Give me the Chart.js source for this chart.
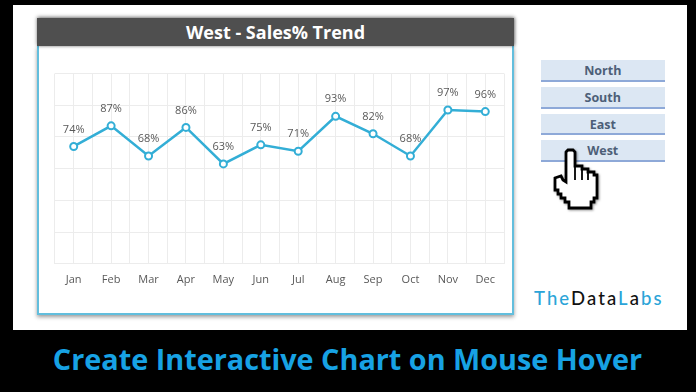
<!DOCTYPE html>
<html>
<head>
<meta charset="utf-8">
<style>
html, body { margin:0; padding:0; width:696px; height:392px; background:#000; overflow:hidden; }
div { position:absolute; box-sizing:border-box; }
#sheet { left:13px; top:4.5px; width:674px; height:325px; background:#fff; }
#card { left:37px; top:46px; width:477px; height:269px; background:#fff; border:2px solid #62bedd; border-top:none; box-shadow:0 2px 4px rgba(0,0,0,.4); }
#head { left:37px; top:18px; width:477px; height:28px; background:#4f4f4f; color:#fff; font:bold 18px "Open Sans"; line-height:28px; text-align:center; box-shadow:0 -1px 4px rgba(0,0,0,.4), 1px 0 3px rgba(0,0,0,.35); }
#wrap { left:37px; top:46px; width:477px; height:269px; }
.btn { left:541px; width:123.5px; height:21.5px; background:#dce7f3; border-bottom:2px solid #8ea9d8; color:#4d5f78; font:bold 12.5px "Open Sans"; line-height:21px; text-align:center; }
#logo { left:534px; top:287px; font:500 18.5px "Lato"; letter-spacing:2.1px; color:#2ba4d8; white-space:nowrap; }
#logo span { color:#111; }
#caption { left:0; top:339px; width:696px; padding-right:1px; text-align:center; color:#17a2e4; font:bold 28.8px "Open Sans"; line-height:40px; white-space:nowrap; }
#hand { left:540px; top:140px; }
</style>
</head>
<body>
<div id="sheet"></div>
<div id="card"></div>
<div id="head">West - Sales% Trend</div>
<div id="wrap"><canvas id="_chart"></canvas></div>
<div class="btn" style="top:60px">North</div>
<div class="btn" style="top:87px">South</div>
<div class="btn" style="top:113.5px">East</div>
<div class="btn" style="top:140px">West</div>
<svg id="hand" style="position:absolute; filter:drop-shadow(1px 1px 1px rgba(0,0,0,.4))" width="70" height="75" viewBox="0 0 70 75">
	<path d="M26 12 L28 10 L33 10 L35 12 L35 26 L42 26 L42 29 L48 29 L48 32 L54 32 L54 35 L57 35 L57 58 L54 58 L54 62 L51 62 L51 68 L29 68 L29 62 L25 62 L25 58 L21 58 L21 54 L18 54 L18 50 L15 50 L15 38 L21 36 L23 40 L26 42 Z" fill="#fff" stroke="#000" stroke-width="2.8" stroke-linejoin="miter"/>
	<path d="M35 26 L35 40 M42 28 L42 40 M48 31 L48 40" fill="none" stroke="#000" stroke-width="1.8"/>
</svg>
<div id="logo">The<span>Data</span>L<span>a</span>bs</div>
<div id="caption">Create Interactive Chart on Mouse Hover</div>

<script src="https://cdn.jsdelivr.net/npm/chart.js"></script>
<script>
var months = ['Jan','Feb','Mar','Apr','May','Jun','Jul','Aug','Sep','Oct','Nov','Dec'];
var sales = [74, 87, 68, 86, 63, 75, 71, 93, 82, 68, 97, 96];

var gridColor = '#ececec';

// percent labels above each point
var pointLabels = {
	id: 'pointLabels',
	afterDatasetsDraw(chart) {
		var ctx = chart.ctx;
		ctx.save();
		ctx.font = '11px "Open Sans"';
		ctx.fillStyle = '#595959';
		ctx.textAlign = 'center';
		ctx.textBaseline = 'middle';
		chart.getDatasetMeta(0).data.forEach((p, i) => {
			ctx.fillText(sales[i] + '%', p.x, p.y - 17);
		});
		ctx.restore();
	}
};

var chart = new Chart(_chart, {
	type: 'line',
	data: {
		labels: months,
		datasets: [{
			data: sales,
			borderColor: '#33aed6',
			borderWidth: 2.5,
			pointRadius: 3.5,
			pointBorderWidth: 2,
			pointBackgroundColor: '#fff',
			pointBorderColor: '#33aed6',
			tension: 0,
		}]
	},
	plugins: [pointLabels],
	options: {
		responsive: true,
		maintainAspectRatio: false,
		animation: false,
		layout: { padding: { left: 18, right: 10, top: 27.5, bottom: 20 } },
		scales: {
			x: {
				offset: true,
				grid: { color: gridColor, offset: false, drawTicks: false },
				border: { display: false },
				ticks: { color: '#595959', font: { size: 11, family: '"Open Sans"' }, padding: 9, maxRotation: 0 },
			},
			// second axis only adds the gridlines between the months
			x2: {
				type: 'category',
				labels: months,
				position: 'bottom',
				offset: true,
				grid: { color: gridColor, offset: true, drawTicks: false },
				border: { display: false },
				ticks: { display: false },
			},
			y: {
				min: 0,
				max: 120,
				grid: { color: gridColor, drawTicks: false },
				border: { display: false },
				ticks: { stepSize: 20, display: false },
			}
		},
		plugins: {
			legend: { display: false },
			tooltip: { enabled: false },
		}
	}
});
</script>
</body>
</html>
